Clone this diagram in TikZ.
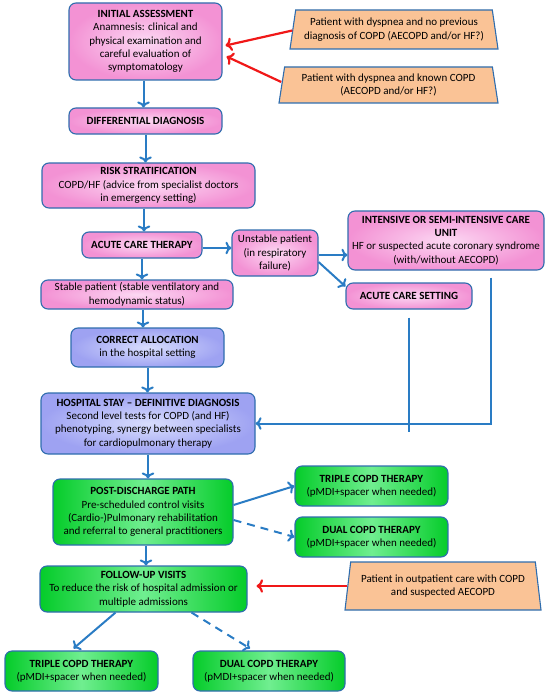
\documentclass[tikz,border=0pt]{standalone}
\usepackage{fontspec}
\setmainfont{Carlito}
\usepackage{tikz}
\usetikzlibrary{arrows.meta, positioning, shapes.geometric}

\definecolor{boxline}{HTML}{2F6DAE}
\definecolor{flowblue}{HTML}{2A7CC4}
\definecolor{pinkout}{HTML}{F392D4}
\definecolor{pinkin}{HTML}{FCD8F3}
\definecolor{lilacout}{HTML}{9EA2F2}
\definecolor{lilacin}{HTML}{D8DDFD}
\definecolor{greenout}{HTML}{05CC2A}
\definecolor{greenin}{HTML}{70EE90}
\definecolor{peach}{HTML}{FAC396}
\definecolor{alarm}{HTML}{F01818}

\begin{document}
\begin{tikzpicture}[
    x=1pt, y=-1pt,
    every node/.style={font=\fontsize{11}{13.3}\selectfont, align=center, inner sep=0pt},
    stepbox/.style={draw=boxline, line width=1.1pt, rounded corners=7pt},
    pinkbox/.style={stepbox, inner color=pinkin, outer color=pinkout},
    lilacbox/.style={stepbox, inner color=lilacin, outer color=lilacout},
    greenbox/.style={stepbox, left color=greenout, right color=greenout, middle color=greenin},
    patient/.style={draw=boxline, line width=1.1pt, fill=peach, trapezium, trapezium left angle=76, trapezium right angle=76, trapezium stretches body},
    flow/.style={->, line width=2pt, flowblue},
    flowdash/.style={flow, dash pattern=on 8pt off 6pt},
    joinline/.style={line width=2pt, flowblue},
    alert/.style={->, line width=2.2pt, alarm},
]
  \useasboundingbox (0,0) rectangle (550,698);

  \node[pinkbox, minimum width=153pt, minimum height=77pt] (ia) at (145.5,41.5) {\textbf{INITIAL ASSESSMENT}\\Anamnesis: clinical and\\physical examination and\\careful evaluation of\\symptomatology};
  \node[patient, minimum width=208pt, minimum height=39pt] (t1) at (394,29.5) {Patient with dyspnea and no previous\\diagnosis of COPD (AECOPD and/or HF?)};
  \node[patient, minimum width=219pt, minimum height=36pt] (t2) at (388.5,85) {Patient with dyspnea and known COPD\\(AECOPD and/or HF?)};
  \node[pinkbox, minimum width=153pt, minimum height=26pt] (dd) at (145.5,121) {\textbf{DIFFERENTIAL DIAGNOSIS}};
  \node[pinkbox, minimum width=213pt, minimum height=45pt] (rs) at (148.5,185.5) {\textbf{RISK STRATIFICATION}\\COPD/HF (advice from specialist doctors\\in emergency setting)};
  \node[pinkbox, minimum width=120pt, minimum height=26pt] (act) at (142,245) {\textbf{ACUTE CARE THERAPY}};
  \node[pinkbox, minimum width=86pt, minimum height=46pt] (up) at (275,253) {Unstable patient\\(in respiratory\\failure)};
  \node[pinkbox, minimum width=196pt, minimum height=59pt] (icu) at (446,240.5) {\textbf{INTENSIVE OR SEMI-INTENSIVE CARE}\\\textbf{UNIT}\\HF or suspected acute coronary syndrome\\(with/without AECOPD)};
  \node[pinkbox, minimum width=126pt, minimum height=26pt] (acs) at (409,296) {\textbf{ACUTE CARE SETTING}};
  \node[pinkbox, minimum width=192pt, minimum height=29pt] (sp) at (137,294.5) {Stable patient (stable ventilatory and\\hemodynamic status)};
  \node[lilacbox, minimum width=153pt, minimum height=39pt] (ca) at (147.5,347.5) {\textbf{CORRECT ALLOCATION}\\in the hospital setting};
  \node[lilacbox, minimum width=214pt, minimum height=61pt] (hs) at (148,423.5) {\textbf{HOSPITAL STAY -- DEFINITIVE DIAGNOSIS}\\Second level tests for COPD (and HF)\\phenotyping, synergy between specialists\\for cardiopulmonary therapy};
  \node[greenbox, minimum width=180pt, minimum height=66pt] (pdp) at (143,512) {\textbf{POST-DISCHARGE PATH}\\Pre-scheduled control visits\\(Cardio-)Pulmonary rehabilitation\\and referral to general practitioners};
  \node[greenbox, minimum width=153pt, minimum height=40pt] (tt1) at (371.5,486) {\textbf{TRIPLE COPD THERAPY}\\(pMDI+spacer when needed)};
  \node[greenbox, minimum width=153pt, minimum height=40pt] (dt1) at (371.5,537) {\textbf{DUAL COPD THERAPY}\\(pMDI+spacer when needed)};
  \node[greenbox, minimum width=207pt, minimum height=46pt] (fuv) at (143.5,589) {\textbf{FOLLOW-UP VISITS}\\To reduce the risk of hospital admission or\\multiple admissions};
  \node[patient, minimum width=196pt, minimum height=48pt] (t3) at (443,586) {Patient in outpatient care with COPD\\and suspected AECOPD};
  \node[greenbox, minimum width=153pt, minimum height=40pt] (tt2) at (81.5,671) {\textbf{TRIPLE COPD THERAPY}\\(pMDI+spacer when needed)};
  \node[greenbox, minimum width=152pt, minimum height=40pt] (dt2) at (269,671) {\textbf{DUAL COPD THERAPY}\\(pMDI+spacer when needed)};

  \draw[alert] ([yshift=-1pt]t1.west) -- ([xshift=3pt,yshift=-4pt]ia.east);
  \draw[alert] ([yshift=3pt]t2.west) -- ([xshift=4pt,yshift=-15pt]ia.east);
  \draw[alert, shorten >=9pt] (t3.west) -- (t3.west -| fuv.east);

  \draw[flow] ([xshift=-2pt]ia.south) -- ([xshift=-2pt]ia.south |- dd.north);
  \draw[flow] (dd.south) -- (dd.south |- rs.north);
  \draw[flow] ([xshift=2pt]act.north |- rs.south) -- ([xshift=2pt]act.north);
  \draw[flow] (act.south) -- (act.south |- sp.north);
  \draw[flow] ([xshift=6pt]sp.south) -- ([xshift=6pt]sp.south |- ca.north);
  \draw[flow] (ca.south) -- (ca.south |- hs.north);
  \draw[flow] (hs.south) -- (hs.south |- pdp.north);
  \draw[flow] ([xshift=3pt]pdp.south) -- ([xshift=3pt]pdp.south |- fuv.north);

  \draw[flow] ([yshift=-3pt]act.east) -- ([yshift=-3pt]act.east -| up.west);
  \draw[flow] ([yshift=-2pt]up.east) -- ([yshift=-2pt]up.east -| icu.west);
  \draw[flow] ([yshift=-9pt]up.east) -- ([yshift=-4pt]acs.north west);

  \draw[flow] ([xshift=45pt,yshift=-7pt]icu.south) |- (hs.east);
  \draw[joinline] ([yshift=-8pt]acs.south) -- ([yshift=-8pt]acs.south |- hs.east);

  \draw[flow] ([yshift=7pt]pdp.east) -- (tt1.west);
  \draw[flowdash] ([yshift=-8pt]pdp.east) -- (dt1.west);
  \draw[flow] ([xshift=-28pt]fuv.south) -- ([xshift=-8pt,yshift=2pt]tt2.north);
  \draw[flowdash] ([xshift=48pt]fuv.south) -- ([xshift=-19pt,yshift=2pt]dt2.north);
\end{tikzpicture}
\end{document}
